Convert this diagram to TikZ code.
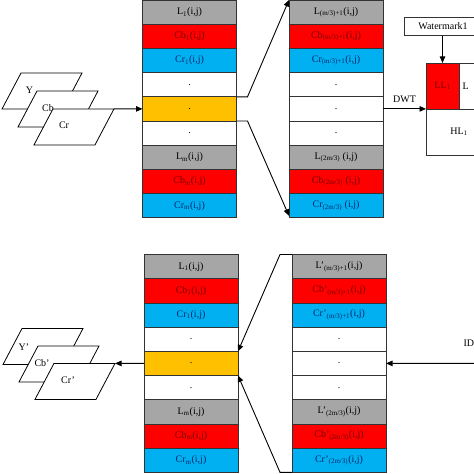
\documentclass[tikz,border=0pt]{standalone}
\usepackage{fontspec}
\setmainfont{Liberation Serif}
\usetikzlibrary{positioning,arrows.meta}
\definecolor{cellgray}{RGB}{166,166,166}
\definecolor{cellred}{RGB}{255,0,0}
\definecolor{cellblue}{RGB}{0,176,240}
\definecolor{cellorange}{RGB}{255,192,0}
\definecolor{txtred}{RGB}{120,0,0}
\definecolor{txtblue}{RGB}{0,40,110}
\begin{document}
\begin{tikzpicture}[
    x=1pt, y=-1pt,
    node distance=0pt,
    font=\fontsize{10}{12}\selectfont,
    cell/.style={draw=black!80, line width=0.8pt, minimum width=94pt, minimum height=24.2pt, inner sep=0pt, outer sep=0pt},
    lum/.style={cell, fill=cellgray},
    rd/.style={cell, fill=cellred, text=txtred},
    blu/.style={cell, fill=cellblue, text=txtblue},
    blank/.style={cell, fill=white},
    mid/.style={cell, fill=cellorange},
    band/.style={draw=black!80, line width=0.8pt, inner sep=0pt, outer sep=0pt},
    plane/.style={draw, line width=0.8pt, fill=white},
    arrow/.style={-{Triangle[length=6.5pt,width=5.5pt]}, line width=0.9pt},
    ]
    \clip (0,0) rectangle (474,474);

    % top: first block of rows
    \node[lum] (a1) at (189.5,12.1) {L\textsubscript{1}(i,j)};
    \node[rd, below=of a1] (a2) {Cb\textsubscript{1}(i,j)};
    \node[blu, below=of a2] (a3) {Cr\textsubscript{1}(i,j)};
    \node[blank, below=of a3] (a4) {.};
    \node[mid, below=of a4] (a5) {.};
    \node[blank, below=of a5] (a6) {.};
    \node[lum, below=of a6] (a7) {L\textsubscript{m}(i,j)};
    \node[rd, below=of a7] (a8) {Cb\textsubscript{m}(i,j)};
    \node[blu, below=of a8] (a9) {Cr\textsubscript{m}(i,j)};

    % top: second block of rows
    \node[lum] (b1) at (336,12.1) {L\textsubscript{(m/3)+1}(i,j)};
    \node[rd, below=of b1] (b2) {Cb\textsubscript{(m/3)+1}(i,j)};
    \node[blu, below=of b2] (b3) {Cr\textsubscript{(m/3)+1}(i,j)};
    \node[blank, below=of b3] (b4) {.};
    \node[blank, below=of b4] (b5) {.};
    \node[blank, below=of b5] (b6) {.};
    \node[lum, below=of b6] (b7) {L\textsubscript{(2m/3)} (i,j)};
    \node[rd, below=of b7] (b8) {Cb\textsubscript{(2m/3)} (i,j)};
    \node[blu, below=of b8] (b9) {Cr\textsubscript{(2m/3)} (i,j)};

    % colour planes
    \draw[plane] (21,73) -- ++(61,0) -- ++(-19,36) -- ++(-61,0) -- cycle;
    \node (ylbl) at (29.5,90) {Y};
    \draw[plane] (37,91) -- ++(61,0) -- ++(-19,36) -- ++(-61,0) -- cycle;
    \node (cblbl) at (48,108) {Cb};
    \draw[plane] (53,108.9) -- ++(61,0) -- ++(-19,36) -- ++(-61,0) -- cycle;
    \node (crlbl) at (64,125.5) {Cr};
    \coordinate (crtop) at (114,108.9);

    % sub-bands
    \node[band, fill=white, minimum width=78pt, minimum height=18pt] (wm) at (443,26.5) {Watermark1};
    \node[band, fill=cellred, text=txtred, minimum width=33pt, minimum height=46pt] (ll) at (442.5,85.9) {LL\textsubscript{1}};
    \node[band, fill=white, minimum width=33pt, minimum height=46pt, right=of ll] (lh) {};
    \node[anchor=west] (lhlbl) at (lh.west) {L};
    \node[band, fill=white, minimum width=66pt, minimum height=46pt, anchor=north west] (hl) at (ll.south west) {HL\textsubscript{1}};

    \draw[arrow] (crtop) -- (a5.west);
    \draw[arrow] (a5.north east) -- ++(11,0) -- (b1.north west);
    \draw[arrow] (a5.south east) -- ++(11,0) -- ([yshift=2pt]b9.south west);
    \draw[arrow] (b5.east) -- node[above=2pt] {DWT} (b5.east -| ll.west);
    \draw[arrow] (ll.north |- wm.south) -- (ll.north);

    % bottom: first block of rows
    \node[lum] (c1) at (191,266.6) {L\textsubscript{1}(i,j)};
    \node[rd, below=of c1] (c2) {Cb\textsubscript{1}(i,j)};
    \node[blu, below=of c2] (c3) {Cr\textsubscript{1}(i,j)};
    \node[blank, below=of c3] (c4) {.};
    \node[mid, below=of c4] (c5) {.};
    \node[blank, below=of c5] (c6) {.};
    \node[lum, below=of c6] (c7) {L\textsubscript{m}(i,j)};
    \node[rd, below=of c7] (c8) {Cb\textsubscript{m}(i,j)};
    \node[blu, below=of c8] (c9) {Cr\textsubscript{m}(i,j)};

    % bottom: second block of rows
    \node[lum] (d1) at (339,266.6) {L’\textsubscript{(m/3)+1}(i,j)};
    \node[rd, below=of d1] (d2) {Cb’\textsubscript{(m/3)+1}(i,j)};
    \node[blu, below=of d2] (d3) {Cr’\textsubscript{(m/3)+1}(i,j)};
    \node[blank, below=of d3] (d4) {.};
    \node[blank, below=of d4] (d5) {.};
    \node[blank, below=of d5] (d6) {.};
    \node[lum, below=of d6] (d7) {L’\textsubscript{(2m/3)}(i,j)};
    \node[rd, below=of d7] (d8) {Cb’\textsubscript{(2m/3)}(i,j)};
    \node[blu, below=of d8] (d9) {Cr’\textsubscript{(2m/3)}(i,j)};

    % recovered planes
    \draw[plane] (22,328.5) -- ++(61,0) -- ++(-19,36) -- ++(-61,0) -- cycle;
    \node (yplbl) at (24,347) {Y’};
    \draw[plane] (38,346) -- ++(61,0) -- ++(-19,36) -- ++(-61,0) -- cycle;
    \node (cbplbl) at (42,363.5) {Cb’};
    \draw[plane] (54,363.4) -- ++(61,0) -- ++(-19,36) -- ++(-61,0) -- cycle;
    \node (crplbl) at (68,380.5) {Cr’};
    \coordinate (crptop) at (115,363.4);

    \coordinate (idin) at (480,363.4);
    \node[anchor=west] (idlbl) at (460,343.5) {ID};

    \draw[arrow] (c5.west) -- (crptop);
    \draw[arrow] (d1.north west) -- ++(-12,0) -- (c5.north east);
    \draw[arrow] (d9.south west) -- ++(-12,0) -- (c5.south east);
    \draw[arrow] (idin) -- (d5.east);

  \end{tikzpicture}
\end{document}
